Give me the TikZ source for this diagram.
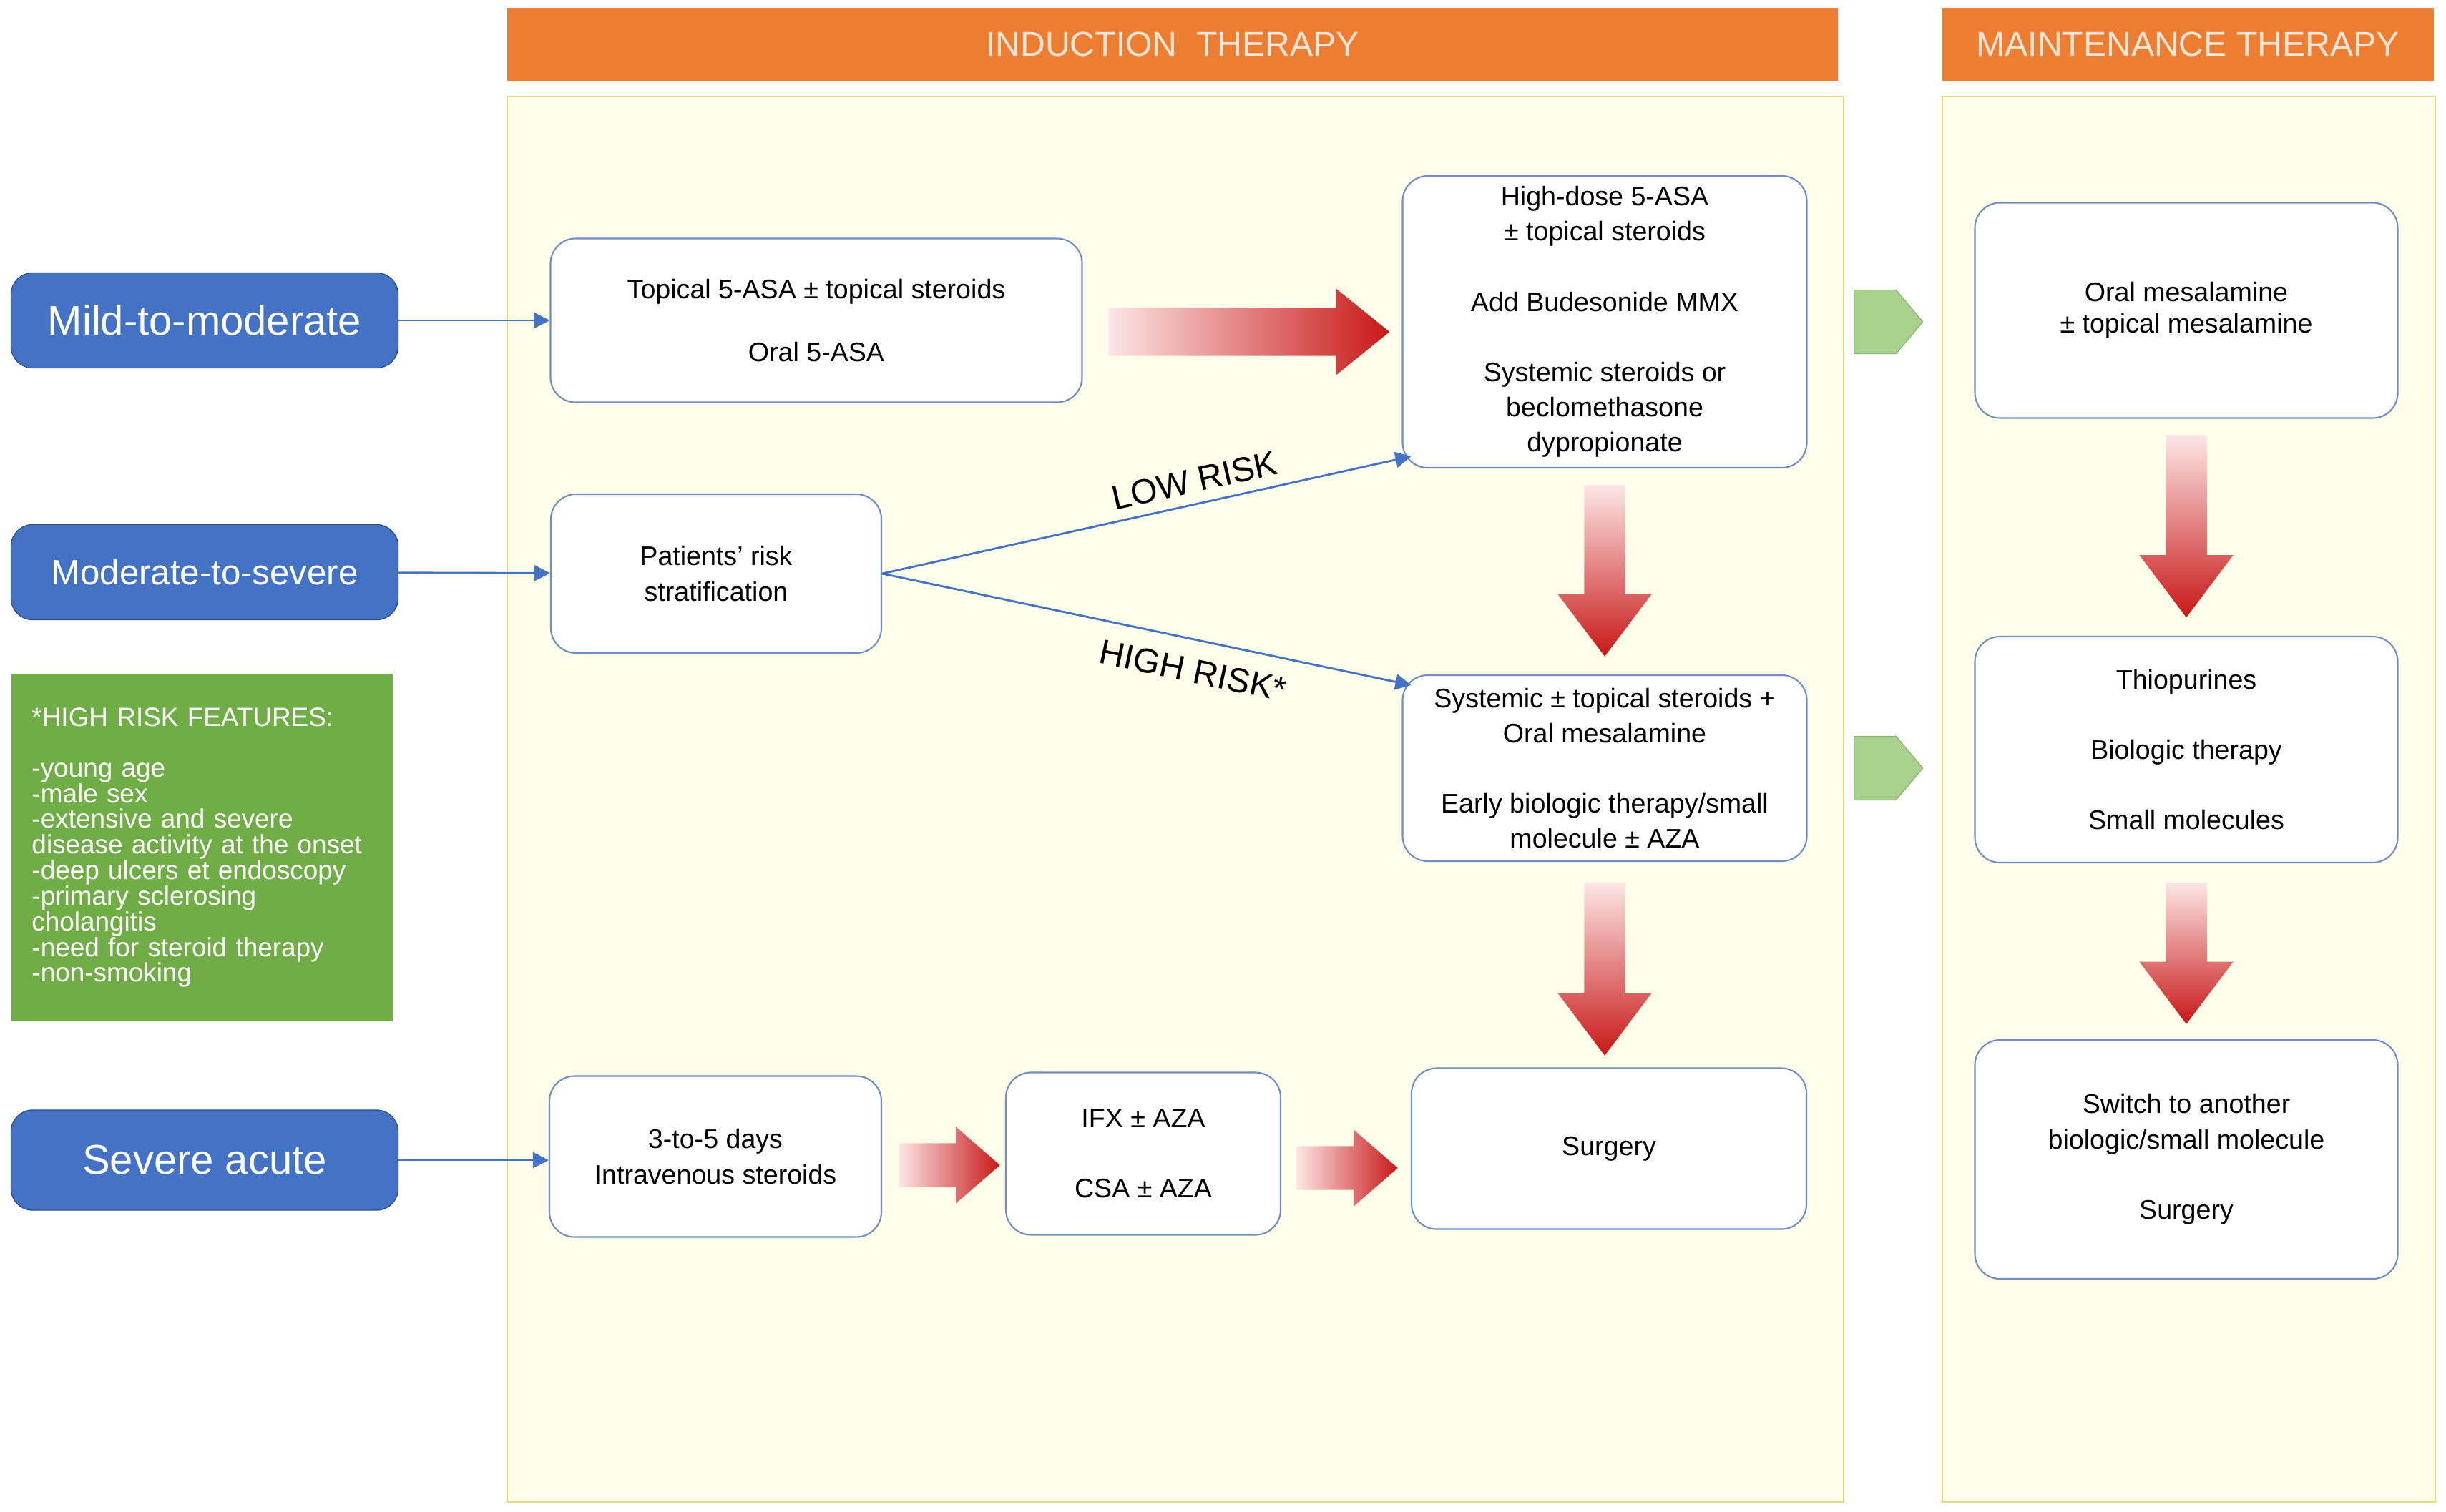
\documentclass[tikz,border=0pt]{standalone}
\usepackage{fontspec}
\setmainfont{Liberation Sans}
\usetikzlibrary{arrows.meta,positioning,calc,shapes.arrows,shapes.symbols}

\definecolor{headorange}{HTML}{ED7D31}
\definecolor{headtext}{HTML}{FBE5D6}
\definecolor{panelfill}{HTML}{FEFEEA}
\definecolor{paneldraw}{HTML}{EAD77A}
\definecolor{btnblue}{HTML}{4472C4}
\definecolor{btndraw}{HTML}{2F528F}
\definecolor{riskgreen}{HTML}{70AD47}
\definecolor{boxdraw}{HTML}{6F8FBF}
\definecolor{linkblue}{HTML}{4472C4}
\definecolor{chevgreen}{HTML}{A9D18E}
\definecolor{chevdraw}{HTML}{8DB872}
\definecolor{arrowdark}{HTML}{C81818}
\definecolor{arrowlight}{HTML}{FDE6E6}

\begin{document}
\begin{tikzpicture}[
    header/.style={rectangle, fill=headorange, text=headtext, minimum height=1.02cm, font=\fontsize{13.7}{16}\selectfont},
    panel/.style={fill=panelfill, draw=paneldraw, line width=0.8pt},
    level/.style={rectangle, draw=btndraw, fill=btnblue, rounded corners=0.3cm, text=white, minimum width=5.41cm, minimum height=1.33cm, font=\fontsize{16.5}{19}\selectfont},
    features/.style={rectangle, fill=riskgreen, text=white, text width=4.75cm, inner xsep=0.29cm, minimum height=4.86cm, align=left, font=\fontsize{10.5}{10.2}\selectfont},
    box/.style={rectangle, draw=boxdraw, fill=white, rounded corners=0.35cm, align=center, line width=0.6pt, font=\fontsize{10.7}{14}\selectfont},
    link/.style={draw=linkblue, line width=0.8pt, -{Triangle[length=2.2mm,width=2.2mm]}},
    risk/.style={inner sep=1pt, font=\fontsize{13.7}{16}\selectfont},
    redarrow/.style={single arrow, shade, draw=none, inner xsep=0pt, anchor=tail},
    bigright/.style={redarrow, left color=arrowlight, right color=arrowdark, minimum height=3.93cm, inner ysep=0.33cm, single arrow head extend=0.27cm, single arrow tip angle=78},
    smallright/.style={redarrow, left color=arrowlight, right color=arrowdark, minimum height=1.42cm, inner ysep=0.30cm, single arrow head extend=0.23cm, single arrow tip angle=82},
    down/.style={redarrow, top color=arrowlight, bottom color=arrowdark, shape border rotate=270, inner xsep=0.28cm, inner ysep=0pt, single arrow head extend=0.37cm, single arrow tip angle=74},
    nextphase/.style={signal, signal to=east, signal pointer angle=100, fill=chevgreen, draw=chevdraw, minimum width=0.96cm, minimum height=0.89cm, inner sep=0pt}
]
\useasboundingbox (0,0) rectangle (34.19,-21.13);

% Phases
\draw[panel] (7.09,-1.35) rectangle (25.77,-21.00);
\draw[panel] (27.15,-1.35) rectangle (34.04,-21.00);
\node[header, minimum width=18.60cm] (induction) at (16.39,-0.62) {INDUCTION\ \ THERAPY};
\node[header, minimum width=6.87cm] (maintenance) at (30.58,-0.62) {MAINTENANCE THERAPY};

% Disease activity
\node[level] (mild) at (2.86,-4.48) {Mild-to-moderate};
\node[level, font=\fontsize{14}{17}\selectfont] (modsev) at (2.86,-8.00) {Moderate-to-severe};
\node[level, minimum height=1.40cm] (severe) at (2.86,-16.22) {Severe acute};
\node[features] (features) at (2.82,-11.85) {*HIGH RISK FEATURES:\\[10pt]
    -young age\\-male sex\\-extensive and severe\\disease activity at the onset\\-deep ulcers et endoscopy\\-primary sclerosing\\cholangitis\\-need for steroid therapy\\-non-smoking};

% Induction
\node[box, minimum width=7.43cm, minimum height=2.29cm] (topical) at (11.41,-4.48) {Topical 5-ASA ± topical steroids\\[11pt] Oral 5-ASA};
\node[box, minimum width=5.65cm, minimum height=4.08cm] (highdose) at (22.43,-4.50) {High-dose 5-ASA\\± topical steroids\\[14pt] Add Budesonide MMX\\[14pt] Systemic steroids or\\beclomethasone\\dypropionate};
\node[box, minimum width=4.62cm, minimum height=2.22cm] (patients) at (10.01,-8.02) {Patients’ risk\\stratification};
\node[box, minimum width=5.65cm, minimum height=2.60cm] (systemic) at (22.43,-10.74) {Systemic ± topical steroids +\\Oral mesalamine\\[14pt] Early biologic therapy/small\\molecule ± AZA};
\node[box, minimum width=4.64cm, minimum height=2.25cm] (ivsteroids) at (10.00,-16.17) {3-to-5 days\\Intravenous steroids};
\node[box, minimum width=3.84cm, minimum height=2.27cm] (rescue) at (15.98,-16.13) {IFX ± AZA\\[14pt] CSA ± AZA};
\node[box, minimum width=5.52cm, minimum height=2.25cm] (surgery) at (22.49,-16.06) {Surgery};

% Maintenance
\node[box, minimum width=5.91cm, minimum height=3.01cm] (oral) at (30.56,-4.34) {Oral mesalamine\\[-1.5pt]± topical mesalamine};
\node[box, minimum width=5.91cm, minimum height=3.16cm] (thiopurines) at (30.56,-10.48) {Thiopurines\\[14pt] Biologic therapy\\[14pt] Small molecules};
\node[box, minimum width=5.91cm, minimum height=3.34cm] (switchbox) at (30.56,-16.21) {Switch to another\\biologic/small molecule\\[14pt] Surgery};

% Links
\draw[link] (mild) -- (topical);
\draw[link] (modsev) -- (patients);
\draw[link] (severe) -- (severe -| ivsteroids.west);
\draw[link] (patients.east) -- node[pos=0.6, above=3pt, sloped, risk] {LOW RISK} ([shift={(0.13,0.17)}]highdose.south west);
\draw[link] (patients.east) -- node[pos=0.6, below=6pt, sloped, risk] {HIGH RISK*} ([shift={(0.13,-0.15)}]systemic.north west);

% Step-up arrows
\node[bigright] (stepup) at ([shift={(0.35,-0.16)}]topical.east) {};
\node[down, minimum height=2.40cm] (fail1) at ([yshift=-0.22cm]highdose.south) {};
\node[down, minimum height=2.42cm] (fail2) at ([yshift=-0.28cm]systemic.south) {};
\node[down, minimum height=2.55cm] (fail3) at ([yshift=-0.22cm]oral.south) {};
\node[down, minimum height=1.98cm] (fail4) at ([yshift=-0.26cm]thiopurines.south) {};
\node[smallright] (rescue1) at ([shift={(0.22,-0.12)}]ivsteroids.east) {};
\node[smallright] (rescue2) at ([shift={(0.20,-0.2)}]rescue.east) {};

% To maintenance
\node[nextphase] (next1) at ($(highdose.east)!0.5!(highdose.east -| oral.west)+(-0.22,0)$) {};
\node[nextphase] (next2) at ($(systemic.east)!0.5!(systemic.east -| oral.west)+(-0.22,0)$) {};

\end{tikzpicture}
\end{document}
